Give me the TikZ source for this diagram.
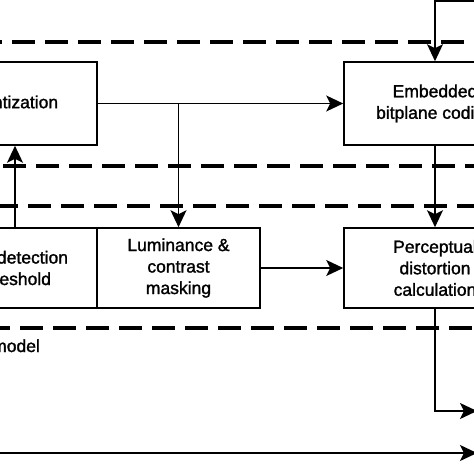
\documentclass[tikz,border=0pt]{standalone}
\usepackage{fontspec}
\setmainfont{Liberation Sans}[FakeBold=1.5]
\usetikzlibrary{arrows.meta, positioning, calc}

\begin{document}
\begin{tikzpicture}[x=1pt, y=-1pt,
    >={Stealth[length=17pt, width=16pt, inset=4pt]},
    blk/.style={draw, line width=1.6pt, align=center, inner sep=0pt,
      font=\fontsize{17.5}{21.5}\selectfont},
    sep/.style={line width=4pt, dash pattern=on 23pt off 10pt},
    conn/.style={line width=1.6pt, ->}]
  \useasboundingbox (0,0) rectangle (474,474);

  % Dashed separators
  \draw[sep] (-21,42) -- (500,42);
  \draw[sep] (-30,166) -- (500,166);
  \draw[sep] (-38,206) -- (500,206);
  \draw[sep] (-13,328) -- (500,328);

  % Blocks
  \node[blk, minimum width=176pt, minimum height=83pt] (quant) at (9,103.5) {Quantization};
  \node[blk, minimum width=182pt, minimum height=83pt] (emb) at (435,103.5) {Embedded\\bitplane coding};
  \node[blk, minimum width=164pt, minimum height=80pt] (det) at (15,268) {\hspace*{2em}detection\\threshold};
  \node[blk, minimum width=163pt, minimum height=80pt] (lum) at (178.5,268) {Luminance \&\\contrast\\masking};
  \node[blk, minimum width=182pt, minimum height=80pt] (perc) at (435,268) {Perceptual\\distortion\\calculation};

  % Label
  \node[anchor=base west, inner sep=0pt, font=\fontsize{17.5}{21.5}\selectfont] (lbl) at (-8,352) {model};

  % Free ends
  \coordinate (in) at (490,1);
  \coordinate (out1) at (477,411);
  \coordinate (src) at (-20,453);
  \coordinate (out2) at (477,453);

  % Connectors
  \draw[conn] (quant.east) -- (emb.west);
  \draw[conn] (quant.east -| lum.north) -- (lum.north);
  \draw[conn] (det.north) -- (det.north |- quant.south);
  \draw[conn] (emb.south) -- (perc.north);
  \draw[conn] (lum.east) -- (perc.west);
  \draw[conn] (in) -| (emb.north);
  \draw[conn] (perc.south) |- (out1);
  \draw[conn] (src) -- (out2);
\end{tikzpicture}
\end{document}
